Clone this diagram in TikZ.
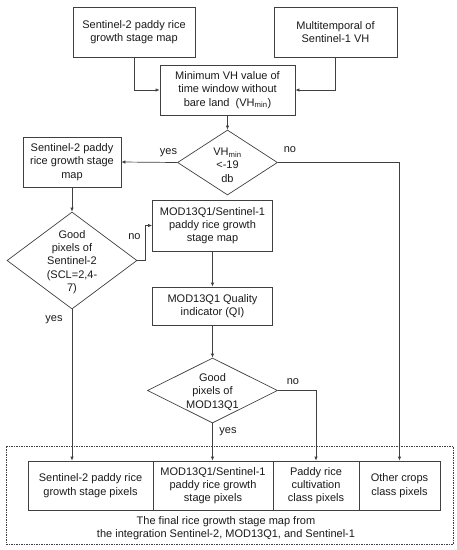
\documentclass[tikz,border=0pt]{standalone}
\usepackage{fontspec}
\setmainfont{Liberation Sans}
\usetikzlibrary{arrows.meta}
\usetikzlibrary{shapes.geometric}
\definecolor{linegray}{HTML}{404040}
\definecolor{textgray}{HTML}{1A1A1A}
\tikzset{
    box/.style={draw=linegray, line width=0.7pt, align=center, inner sep=1pt, text=textgray},
    decision/.style={draw=linegray, line width=0.7pt, shape=diamond, inner sep=0pt, aspect=1.4},
    lbl/.style={text=textgray, inner sep=0pt},
    arrow/.style={draw=linegray, line width=0.7pt, -{Latex[length=4pt,width=3.5pt]}},
    link/.style={draw=linegray, line width=0.7pt}
}
\begin{document}
\begin{tikzpicture}[x=1pt, y=-1pt, font=\fontsize{11}{13.3}\selectfont]
            \useasboundingbox (0,0) rectangle (457,550);
            % inputs
            \node[box, minimum width=122, minimum height=50] (s2map) at (134,32) {Sentinel-2 paddy rice\\growth stage map};
            \node[box, minimum width=123, minimum height=50] (s1vh) at (335.5,32) {Multitemporal of\\Sentinel-1 VH};
            \node[box, minimum width=135, minimum height=50] (vhmin) at (227.5,90) {Minimum VH value of\\time window without\\bare land~~(VH\textsubscript{min})};
            % first decision
            \node[decision, minimum width=100, minimum height=65] (dec1) at (227.5,162.5) {};
            \node[lbl, align=center] (dec1txt) at (227.5,165) {VH\textsubscript{min}\\<-19\\db};
            \node[box, minimum width=98, minimum height=50] (s2stage) at (72,162) {Sentinel-2 paddy\\rice growth stage\\map};
            % second decision
            \node[decision, minimum width=130, minimum height=97] (dec2) at (72,260.5) {};
            \node[lbl, align=center] (dec2txt) at (72,262) {Good\\pixels of\\Sentinel-2\\(SCL=2,4-\\7)};
            \node[box, minimum width=120, minimum height=51] (modmap) at (212.5,225.5) {MOD13Q1/Sentinel-1\\paddy rice growth\\stage map};
            \node[box, minimum width=120, minimum height=38] (qi) at (212.5,306) {MOD13Q1 Quality\\indicator (QI)};
            % third decision
            \node[decision, minimum width=130, minimum height=65] (dec3) at (212.5,390.5) {};
            \node[lbl, align=center] (dec3txt) at (212.5,392) {Good\\pixels of\\MOD13Q1};
            % final map
            \node[draw=linegray, line width=0.7pt, dash pattern=on 1.5pt off 1pt, minimum width=447, minimum height=98, inner sep=0pt] (frame) at (229.5,495) {};
            \node[box, minimum width=125, minimum height=49] (out1) at (90.5,485.5) {Sentinel-2 paddy rice\\growth stage pixels};
            \node[box, minimum width=120, minimum height=49] (out2) at (213,485.5) {MOD13Q1/Sentinel-1\\paddy rice growth\\stage pixels};
            \node[box, minimum width=86, minimum height=49] (out3) at (316,485.5) {Paddy rice\\cultivation\\class pixels};
            \node[box, minimum width=81, minimum height=49] (out4) at (399.5,485.5) {Other crops\\class pixels};
            \node[lbl, align=center] (caption) at (226,528) {The final rice growth stage map from\\the integration Sentinel-2, MOD13Q1, and Sentinel-1};

            % connectors
            \draw[arrow] (s2map.south) |- (vhmin.west);
            \draw[arrow] (s1vh.south) |- (vhmin.east);
            \draw[arrow] (vhmin.south) -- (dec1.north);
            \draw[arrow] (dec1.west) -- (s2stage.east);
            \draw[arrow] (dec1.east) -| (out4.north);
            \draw[arrow] (s2stage.south) -- (dec2.north);
            \draw[arrow] (dec2.east) -- ++(8,0) |- (modmap.west);
            \draw[arrow] (dec2.south) -- (dec2.south |- out1.north);
            \draw[arrow] (modmap.south) -- (qi.north);
            \draw[arrow] (qi.south) -- (dec3.north);
            \draw[arrow] (dec3.south) -- (dec3.south |- out2.north);
            \draw[arrow] (dec3.east) -| (out3.north);

            % yes / no
            \node[lbl] (yes1) at (168.5,153) {yes};
            \node[lbl] (no1) at (290,150) {no};
            \node[lbl] (no2) at (134.5,237) {no};
            \node[lbl] (yes2) at (54,320) {yes};
            \node[lbl] (no3) at (293,382) {no};
            \node[lbl] (yes3) at (228,432) {yes};
        \end{tikzpicture}
\end{document}
